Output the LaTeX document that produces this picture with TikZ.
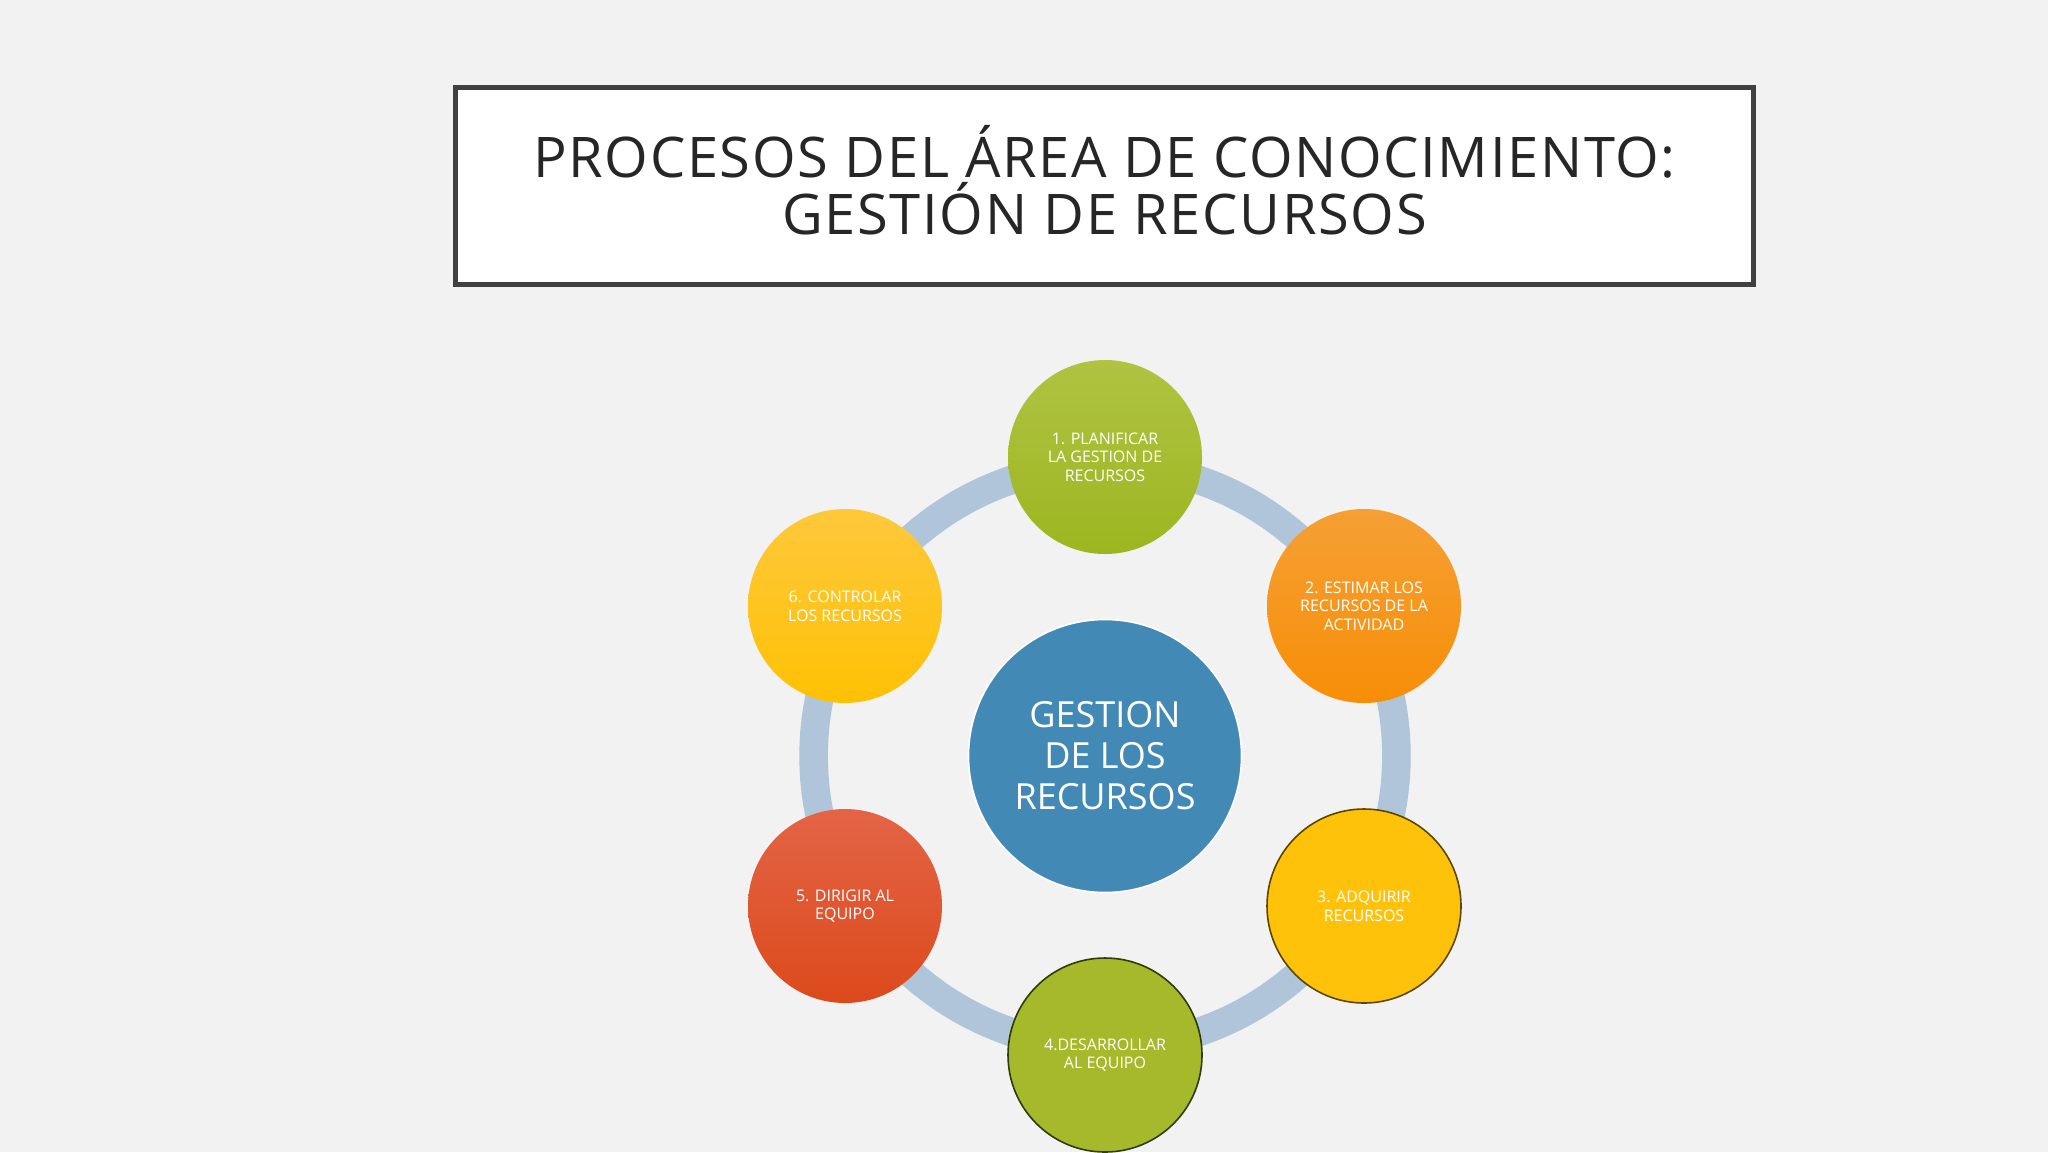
\documentclass[tikz,border=0pt]{standalone}
\usepackage{fontspec}
\setmainfont{Open Sans}
\newfontfamily\tituloletra[LetterSpace=3.0]{Open Sans}
\usepackage{xcolor}
\usepackage{tikz}

\definecolor{fondo}{HTML}{F2F2F2}
\definecolor{marco}{HTML}{404040}
\definecolor{tinta}{HTML}{262626}
\definecolor{anillo}{HTML}{B0C5D9}
\definecolor{hubazul}{HTML}{4289B6}
\definecolor{verdeA}{HTML}{B0C342}
\definecolor{verdeB}{HTML}{9CB620}
\definecolor{naranjaA}{HTML}{F5A035}
\definecolor{naranjaB}{HTML}{F78E06}
\definecolor{amarillo}{HTML}{FFC20A}
\definecolor{amarilloA}{HTML}{FEC83C}
\definecolor{amarilloB}{HTML}{FEC104}
\definecolor{verdeliso}{HTML}{A5B92B}
\definecolor{rojoA}{HTML}{E36446}
\definecolor{rojoB}{HTML}{DC4A1B}
\definecolor{bordeamarillo}{HTML}{5C4600}
\definecolor{bordeverde}{HTML}{2F3A0E}

\begin{document}
\begin{tikzpicture}[x=0.5pt,y=-0.5pt]
	\useasboundingbox (0,0) rectangle (2048,1152);
	\fill[fondo] (0,0) rectangle (2048,1152);
	\tikzstyle{marcotitulo}=[draw=marco,line width=2.5pt,fill=white,minimum width=649pt,minimum height=98.5pt,inner sep=0pt]
	\tikzstyle{textotitulo}=[inner sep=0pt,text=tinta,align=center,font=\tituloletra\fontsize{28}{28.75}\selectfont]
	\node[marcotitulo] (tit) at (1104.5,186) {};
	\node[textotitulo,yshift=3pt] (tittexto) at (tit.center) {PROCESOS DEL ÁREA DE CONOCIMIENTO:\\GESTIÓN DE RECURSOS};
	\coordinate (eje) at (1105,756);
	\draw[anillo,line width=14.3pt] (eje) circle[radius=145.7pt];
	\tikzstyle{proceso}=[circle,minimum size=97pt,inner sep=0pt,text=white,align=center,font=\fontsize{8}{9.3}\selectfont]
	\node[proceso,top color=verdeA,bottom color=verdeB] (p1) at (1105,457) {1. PLANIFICAR\\LA GESTION DE\\RECURSOS};
	\node[proceso,top color=naranjaA,bottom color=naranjaB] (p2) at (1364,606) {2. ESTIMAR LOS\\RECURSOS DE LA\\ACTIVIDAD};
	\node[proceso,fill=amarillo,draw=bordeamarillo,line width=0.8pt] (p3) at (1364,906) {3. ADQUIRIR\\RECURSOS};
	\node[proceso,fill=verdeliso,draw=bordeverde,line width=0.8pt] (p4) at (1105,1055) {4.DESARROLLAR\\AL EQUIPO};
	\node[proceso,top color=rojoA,bottom color=rojoB] (p5) at (845,906) {5. DIRIGIR AL\\EQUIPO};
	\node[proceso,top color=amarilloA,bottom color=amarilloB] (p6) at (845,606) {6. CONTROLAR\\LOS RECURSOS};
	\node[circle,minimum size=136.5pt,inner sep=0pt,fill=hubazul,draw=white,line width=0.8pt,text=white,align=center,font=\fontsize{18}{20.5}\selectfont] (hub) at (eje) {GESTION\\DE LOS\\RECURSOS};
\end{tikzpicture}
\end{document}
